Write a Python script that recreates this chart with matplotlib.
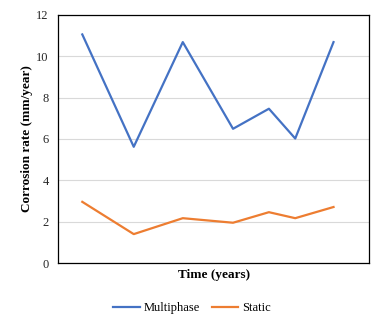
import matplotlib
matplotlib.use("Agg")
from matplotlib import pyplot as plt

# sampling times (years) and measured corrosion rates
time = [1.0, 3.15, 5.2, 7.3, 8.8, 9.9, 11.5]
multiphase = [11.05, 5.62, 10.68, 6.49, 7.46, 6.02, 10.68]
static = [2.96, 1.40, 2.17, 1.95, 2.46, 2.17, 2.71]

plt.rcParams['font.family'] = ['Liberation Serif', 'DejaVu Serif']
plt.rcParams['font.size'] = 9

fig = plt.figure(figsize=(3.84, 3.36), dpi=100)
ax = fig.add_axes([0.152, 0.217, 0.81, 0.739])

ax.plot(time, multiphase, color='#4472C4', lw=1.6, label='Multiphase')
ax.plot(time, static, color='#ED7D31', lw=1.6, label='Static')

ax.set_xlim(0, 13)
ax.set_ylim(0, 12)
ax.set_yticks(range(0, 13, 2))
ax.set_xticks([])
ax.tick_params(axis='y', length=0, pad=7, labelsize=9, colors='#262626')
ax.yaxis.grid(True, color='#D9D9D9', lw=0.8)
ax.set_axisbelow(True)
for s in ax.spines.values():
    s.set_color('black')
    s.set_linewidth(0.9)

ax.set_xlabel('Time (years)', fontweight='bold', fontsize=9.5, labelpad=4)
ax.set_ylabel('Corrosion rate (mm/year)', fontweight='bold', fontsize=9.5, labelpad=2.5)

fig.legend(loc='center', bbox_to_anchor=(0.5, 0.083), ncol=2, frameon=False,
           handlelength=2.1, columnspacing=1.0, handletextpad=0.3, fontsize=9)

fig.savefig('out.png', dpi=100)
